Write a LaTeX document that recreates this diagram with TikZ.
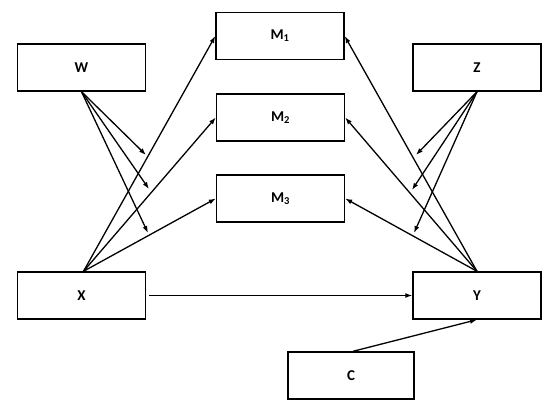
\documentclass[tikz,border=0pt]{standalone}
\usepackage{fontspec}
\setmainfont{Carlito}
\usetikzlibrary{arrows.meta}
\tikzset{
  var/.style = {draw, black, line width=1.4pt, minimum width=128pt, minimum height=47pt, inner sep=0pt, font=\fontsize{15}{17}\selectfont\bfseries},
  path/.style = {line width=1.3pt, -{Latex[length=7pt,width=5pt]}}
}
\begin{document}
\begin{tikzpicture}[x=1pt, y=-1pt]
            \useasboundingbox (0,0) rectangle (550,406);

            \node[var] (W) at (81.5,67.5) {W};
            \node[var] (Z) at (477,67.5) {Z};
            \node[var] (M1) at (280,36) {M\textsubscript{1}};
            \node[var] (M2) at (280.5,117.5) {M\textsubscript{2}};
            \node[var] (M3) at (280.5,198.5) {M\textsubscript{3}};
            \node[var] (X) at (81.5,295.5) {X};
            \node[var] (Y) at (477,295.5) {Y};
            \node[var, minimum width=126pt] (C) at (351,375.5) {C};

            \coordinate (w1) at (146,155);
            \coordinate (w2) at (149,189);
            \coordinate (w3) at (148,233);
            \coordinate (z1) at (416,155);
            \coordinate (z2) at (412,190);
            \coordinate (z3) at (414,233);

            \foreach \m in {M1,M2,M3} {
                \draw[path] ([xshift=2pt]X.north) -- (\m.west);
                \draw[path] (Y.north) -- (\m.east);
            }
            \foreach \p in {w1,w2,w3} \draw[path] (W.south) -- (\p);
            \foreach \p in {z1,z2,z3} \draw[path] (Z.south) -- (\p);

            \draw[path, shorten <=3pt] (X) -- (Y);
            \draw[path] ([xshift=2pt]C.north) -- (Y.south);
        \end{tikzpicture}
\end{document}
